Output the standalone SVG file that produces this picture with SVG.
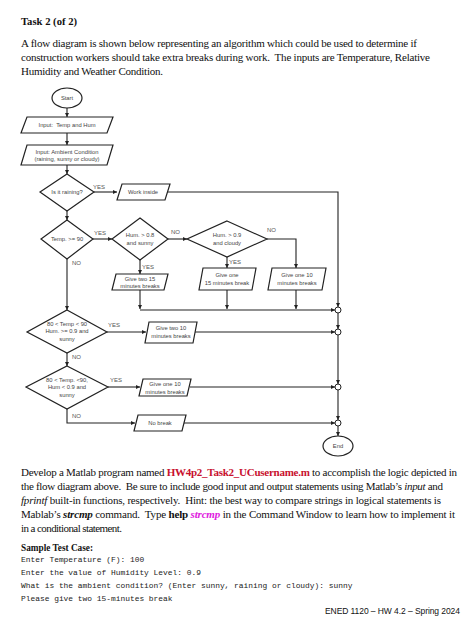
<svg xmlns="http://www.w3.org/2000/svg" width="474" height="619" viewBox="0 0 474 619">
<defs>
<marker id="ah" viewBox="0 0 10 10" refX="10" refY="5" markerWidth="4" markerHeight="4" orient="auto" markerUnits="userSpaceOnUse">
<path d="M0,0 L10,5 L0,10 z" fill="#222"/>
</marker>
<style>
.doc{font-family:"Liberation Serif","Times New Roman",serif;font-size:11px;fill:#111}
.b{font-weight:bold}
.i{font-style:italic}
.red{fill:#c8102e;font-weight:bold}
.mag{fill:#e020e0;font-weight:bold;font-style:italic}
.mono{font-family:"Liberation Mono","Courier New",monospace;font-size:7.9px;fill:#222}
.foot{font-family:"Liberation Sans",Arial,sans-serif;font-size:8.5px;fill:#111}
.shape{fill:#fff;stroke:#222;stroke-width:1.2}
.nt{font-family:"Liberation Sans",Arial,sans-serif;font-size:5.8px;fill:#444;text-anchor:middle}
.lb{font-family:"Liberation Sans",Arial,sans-serif;font-size:6px;fill:#555}
.cn{fill:none;stroke:#222;stroke-width:1.1}
.jn{fill:#fff;stroke:#222;stroke-width:1}
</style>
</defs>
<rect width="474" height="619" fill="#fff"/>

<text class="doc b" x="21" y="25" textLength="56" lengthAdjust="spacingAndGlyphs">Task 2 (of 2)</text>
<text class="doc" x="21" y="47" textLength="396">A flow diagram is shown below representing an algorithm which could be used to determine if</text>
<text class="doc" x="21" y="61" textLength="409" xml:space="preserve">construction workers should take extra breaks during work.  The inputs are Temperature, Relative</text>
<text class="doc" x="21" y="75" textLength="142">Humidity and Weather Condition.</text>

<g id="connectors">
<path class="cn" d="M67,108 V117" marker-end="url(#ah)"/>
<path class="cn" d="M67,133 V145" marker-end="url(#ah)"/>
<path class="cn" d="M67,165 V174" marker-end="url(#ah)"/>
<path class="cn" d="M94,192 H117" marker-end="url(#ah)"/>
<path class="cn" d="M168,192 H338 V307" marker-end="url(#ah)"/>
<path class="cn" d="M67,211 V220" marker-end="url(#ah)"/>
<path class="cn" d="M93,239 H112" marker-end="url(#ah)"/>
<path class="cn" d="M168,239 H187" marker-end="url(#ah)"/>
<path class="cn" d="M267,239 H296 V268" marker-end="url(#ah)"/>
<path class="cn" d="M227,257 V268" marker-end="url(#ah)"/>
<path class="cn" d="M140,260 V274" marker-end="url(#ah)"/>
<path class="cn" d="M140,290 V309" marker-end="url(#ah)"/>
<path class="cn" d="M227,290 V309" marker-end="url(#ah)"/>
<path class="cn" d="M296,290 V309" marker-end="url(#ah)"/>
<path class="cn" d="M140,310 H335" marker-end="url(#ah)"/>
<path class="cn" d="M338,313 V329" marker-end="url(#ah)"/>
<path class="cn" d="M338,335 V384" marker-end="url(#ah)"/>
<path class="cn" d="M338,390 V420" marker-end="url(#ah)"/>
<path class="cn" d="M338,426 V436" marker-end="url(#ah)"/>
<path class="cn" d="M67,259 V310" marker-end="url(#ah)"/>
<path class="cn" d="M107,332 H146" marker-end="url(#ah)"/>
<path class="cn" d="M195,332 H335" marker-end="url(#ah)"/>
<path class="cn" d="M67,353 V366" marker-end="url(#ah)"/>
<path class="cn" d="M108,387 H140" marker-end="url(#ah)"/>
<path class="cn" d="M190,387 H335" marker-end="url(#ah)"/>
<path class="cn" d="M67,409 V423 H135" marker-end="url(#ah)"/>
<path class="cn" d="M184,423 H335" marker-end="url(#ah)"/>
<text class="lb" x="93" y="189">YES</text>
<text class="lb" x="94" y="235">YES</text>
<text class="lb" x="171" y="234">NO</text>
<text class="lb" x="267" y="232">NO</text>
<text class="lb" x="229" y="264">YES</text>
<text class="lb" x="142" y="269">YES</text>
<text class="lb" x="72" y="265">NO</text>
<text class="lb" x="108" y="327">YES</text>
<text class="lb" x="72" y="359">NO</text>
<text class="lb" x="110" y="382">YES</text>
<text class="lb" x="72" y="418">NO</text>
</g>

<g id="start"><ellipse class="shape" cx="67" cy="98" rx="15" ry="10"/><text class="nt" x="67" y="100">Start</text></g>
<g id="input1"><polygon class="shape" points="27,117 113,117 107,133 21,133"/><text class="nt" x="67" y="127" xml:space="preserve">Input:  Temp and Hum</text></g>
<g id="input2"><polygon class="shape" points="27,145 113,145 107,165 21,165"/><text class="nt" x="67" y="154">Input: Ambient Condition</text><text class="nt" x="67" y="161">(raining, sunny or cloudy)</text></g>
<g id="raining"><polygon class="shape" points="67,174 94,192 67,211 40,192"/><text class="nt" x="67" y="194">Is it raining?</text></g>
<g id="workinside"><polygon class="shape" points="122,184 170,184 165,200 117,200"/><text class="nt" x="143" y="194">Work inside</text></g>
<g id="temp90"><polygon class="shape" points="67,220 93,239 67,259 41,239"/><text class="nt" x="67" y="241">Temp. &gt;= 90</text></g>
<g id="hum08"><polygon class="shape" points="140,218 168,239 140,260 112,239"/><text class="nt" x="140" y="237">Hum. &gt; 0.8</text><text class="nt" x="140" y="245">and sunny</text></g>
<g id="hum09"><polygon class="shape" points="227,221 267,239 227,257 187,239"/><text class="nt" x="227" y="237">Hum. &gt; 0.9</text><text class="nt" x="227" y="245">and cloudy</text></g>
<g id="two15"><polygon class="shape" points="116,274 168,274 164,290 112,290"/><text class="nt" x="140" y="281">Give two 15</text><text class="nt" x="140" y="288">minutes breaks</text></g>
<g id="one15"><polygon class="shape" points="203,268 256,268 252,290 199,290"/><text class="nt" x="227" y="277">Give one</text><text class="nt" x="227" y="285">15 minutes break</text></g>
<g id="one10a"><polygon class="shape" points="272,268 326,268 322,290 268,290"/><text class="nt" x="297" y="277">Give one 10</text><text class="nt" x="297" y="285">minutes breaks</text></g>
<g id="cond1"><polygon class="shape" points="67,310 107,332 67,353 27,332"/><text class="nt" x="67" y="326">80 &lt; Temp &lt; 90</text><text class="nt" x="67" y="333">Hum. &gt;= 0.9 and</text><text class="nt" x="67" y="341">sunny</text></g>
<g id="two10"><polygon class="shape" points="149,322 197,322 193,343 145,343"/><text class="nt" x="171" y="330">Give two 10</text><text class="nt" x="171" y="338">minutes breaks</text></g>
<g id="cond2"><polygon class="shape" points="67,366 108,387 67,409 26,387"/><text class="nt" x="67" y="382">80 &lt; Temp. &lt;90,</text><text class="nt" x="67" y="389">Hum &lt; 0.9 and</text><text class="nt" x="67" y="397">sunny</text></g>
<g id="one10b"><polygon class="shape" points="143,379 191,379 187,396 139,396"/><text class="nt" x="165" y="386">Give one 10</text><text class="nt" x="165" y="394">minutes breaks</text></g>
<g id="nobreak"><polygon class="shape" points="138,415 186,415 182,431 134,431"/><text class="nt" x="160" y="425">No break</text></g>
<g id="j1"><circle class="jn" cx="338" cy="310" r="3"/></g>
<g id="j2"><circle class="jn" cx="338" cy="332" r="3"/></g>
<g id="j3"><circle class="jn" cx="338" cy="387" r="3"/></g>
<g id="j4"><circle class="jn" cx="338" cy="423" r="3"/></g>
<g id="end"><ellipse class="shape" cx="338" cy="446" rx="15" ry="10"/><text class="nt" x="338" y="448">End</text></g>

<text class="doc" x="21" y="476" textLength="436">Develop a Matlab program named <tspan class="red">HW4p2_Task2_UCusername.m</tspan> to accomplish the logic depicted in</text>
<text class="doc" x="21" y="490" textLength="422" xml:space="preserve">the flow diagram above.  Be sure to include good input and output statements using Matlab’s <tspan class="i">input</tspan> and</text>
<text class="doc" x="21" y="504" textLength="420" xml:space="preserve"><tspan class="i">fprintf</tspan> built-in functions, respectively.  Hint: the best way to compare strings in logical statements is</text>
<text class="doc" x="21" y="518" textLength="434" xml:space="preserve">Mablab’s <tspan class="b i">strcmp</tspan> command.  Type <tspan class="b">help</tspan> <tspan class="mag">strcmp</tspan> in the Command Window to learn how to implement it</text>
<text class="doc" x="21" y="532" textLength="101">in a conditional statement.</text>

<text class="doc b" x="21" y="551" textLength="72" lengthAdjust="spacingAndGlyphs">Sample Test Case:</text>
<text class="mono" x="21" y="562">Enter Temperature (F): 100</text>
<text class="mono" x="21" y="575">Enter the value of Humidity Level: 0.9</text>
<text class="mono" x="21" y="588">What is the ambient condition? (Enter sunny, raining or cloudy): sunny</text>
<text class="mono" x="21" y="601">Please give two 15-minutes break</text>
<text class="foot" x="325" y="614" textLength="135">ENED 1120 – HW 4.2 – Spring 2024</text>
</svg>
